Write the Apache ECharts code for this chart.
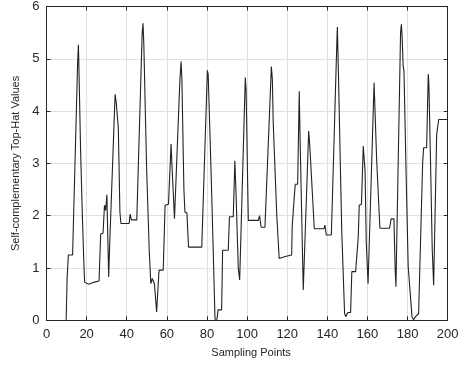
<!DOCTYPE html>
<html>
<head>
<meta charset="utf-8">
<script src="https://cdn.jsdelivr.net/npm/echarts@6/dist/echarts.min.js"></script>
<style>
html,body{margin:0;padding:0;background:#fff;}
#chart{width:474px;height:380px;}
</style>
</head>
<body>
<div id="chart"></div>
<script>
// Sampling point positions (vertices of the trace) and Top-Hat values
const samplePoints = [9.8,10.3,10.9,13,15.5,15.9,16.1,17.0,17.9,18.7,19,19.3,21,23,23.5,26.2,27,28.2,28.9,29.5,30.1,31,31.5,34.2,34.8,35.8,36.6,37.1,41.2,41.7,42.3,45,47.7,48.1,48.5,49.9,51.2,52,52.7,53.4,53.8,54.9,56.1,58.2,59.1,60.8,62.1,62.5,63.8,66.5,67.1,67.5,68.5,69,70,70.8,77.4,80.2,80.6,82.0,83.0,84.0,85,85.5,87.3,87.8,90.6,91.2,93.1,93.9,94.5,95.6,96.3,99.1,99.5,100.6,105.6,106.2,107,108.9,112.1,112.6,113.0,113.8,114.8,116,119,119.5,122.2,122.5,123.5,124,125.2,126,126.4,128,130.7,131.3,133.5,138.3,138.8,139.5,142,144.8,145.0,145.6,146.5,147.2,148.6,149.2,150.2,151.6,152.2,154.1,155.4,155.9,157,157.9,158.8,159.4,160.3,163.3,164.6,166.2,171,171.8,173.2,173.8,174.2,176.5,176.9,177.3,177.8,178.2,179.2,180.3,182.2,183,184,185.5,187.5,188,189.5,190.3,190.6,191.5,192.3,193,194.5,195.5,200];
const topHatValues = [0,0.83,1.25,1.25,4.9,5.27,4.95,3.24,1.97,1.02,0.73,0.70,0.69,0.72,0.75,0.75,1.65,1.67,2.2,2.1,2.4,0.83,1.45,4.32,4.15,3.68,2.07,1.85,1.85,2.03,1.92,1.92,5.5,5.68,5.3,2.92,1.35,0.70,0.80,0.78,0.70,0.16,0.96,0.96,2.2,2.22,3.37,3.0,1.94,4.6,4.95,4.6,2.5,2.07,2.05,1.40,1.40,4.78,4.7,2.9,1.5,0.02,0.02,0.2,0.2,1.34,1.34,1.98,1.98,3.05,2.4,1.0,0.77,4.64,4.4,1.91,1.91,2.0,1.78,1.78,4.85,4.6,3.8,3.0,2.0,1.18,1.22,1.25,1.25,1.8,2.35,2.6,2.6,4.38,3.5,0.58,3.62,3.3,1.75,1.75,1.82,1.63,1.63,5.4,5.61,4.6,2.92,1.69,0.13,0.07,0.15,0.15,0.93,0.93,1.59,2.2,2.22,3.33,2.86,1.5,0.70,4.54,3.06,1.76,1.76,1.94,1.94,0.99,0.64,5.5,5.66,5.4,4.85,4.78,2.92,1.03,0.07,0.01,0.07,0.13,3.0,3.3,3.3,4.71,4.55,2.92,1.35,0.67,3.55,3.84,3.84];
const xTicks = {min:0, max:200, interval:20};
const yTicks = {min:0, max:6, interval:1};

const chart = echarts.init(document.getElementById('chart'), null, {renderer:'canvas'});
const axisCol = '#262626';
const font = 'Liberation Sans, Arial, sans-serif';
const baseAxis = {
  type:'value',
  axisLine:{show:true, onZero:false, lineStyle:{color:axisCol, width:1}},
  axisTick:{show:true, inside:true, length:4, lineStyle:{color:axisCol}},
  splitLine:{show:false}
};
chart.setOption({
  animation:false,
  backgroundColor:'#fff',
  grid:{left:46.5, right:26.3, top:4.7, bottom:59.7, containLabel:false},
  xAxis:[
    Object.assign({}, baseAxis, {
      min:xTicks.min, max:xTicks.max, interval:xTicks.interval, position:'bottom',
      name:'Sampling Points', nameLocation:'middle', nameGap:27,
      nameTextStyle:{fontFamily:font, fontSize:11, color:axisCol, padding:[0,0,0,8]},
      axisLabel:{fontFamily:font, fontSize:13, color:axisCol, margin:8},
      splitLine:{show:true, lineStyle:{color:'#e0e0e0', width:1}}
    }),
    Object.assign({}, baseAxis, {
      min:xTicks.min, max:xTicks.max, interval:xTicks.interval, position:'top',
      axisLabel:{show:false}
    })
  ],
  yAxis:[
    Object.assign({}, baseAxis, {
      min:yTicks.min, max:yTicks.max, interval:yTicks.interval, position:'left',
      name:'Self-complementary Top-Hat Values', nameLocation:'middle', nameGap:24,
      nameTextStyle:{fontFamily:font, fontSize:11, color:axisCol},
      axisLabel:{fontFamily:font, fontSize:13, color:axisCol, margin:7},
      splitLine:{show:true, lineStyle:{color:'#e0e0e0', width:1}}
    }),
    Object.assign({}, baseAxis, {
      min:yTicks.min, max:yTicks.max, interval:yTicks.interval, position:'right',
      axisLabel:{show:false}
    })
  ],
  series:[{
    type:'line',
    xAxisIndex:0, yAxisIndex:0,
    data: samplePoints.map((x,i)=>[x, topHatValues[i]]),
    showSymbol:false, symbol:'none',
    lineStyle:{color:'#222', width:1.1},
    silent:true
  }]
});
</script>
</body>
</html>
